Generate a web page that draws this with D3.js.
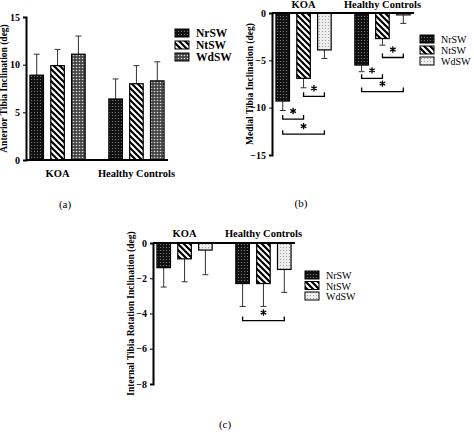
<!DOCTYPE html><html><head><meta charset="utf-8"><script src="https://cdn.jsdelivr.net/npm/d3@7"></script>
<style>body{margin:0;background:#fff}text{font-family:"Liberation Serif","Times New Roman",serif}</style></head><body>
<svg id="c" width="474" height="435"></svg>
<script>
const groups=["KOA","Healthy Controls"];
const series=["NrSW","NtSW","WdSW"];
const antMean=[[8.9,9.9,11.1],[6.4,8.0,8.3]];
const antErr=[[2.2,1.7,1.9],[2.1,1.9,2.0]];
const medMean=[[-9.3,-6.9,-3.9],[-5.5,-2.7,-0.2]];
const medErr=[[1.0,1.0,0.9],[0.7,0.7,0.9]];
const rotMean=[[-1.4,-0.9,-0.4],[-2.3,-2.3,-1.5]];
const rotErr=[[1.1,1.3,1.4],[1.3,1.3,1.3]];
const antTicks=[0,5,10,15], medTicks=[0,-5,-10,-15], rotTicks=[0,-2,-4,-6,-8];
const medSig=[[0,0,1,-11.2],[0,0,2,-12.8],[0,1,2,-8.8],[1,0,1,-6.9],[1,0,2,-8.3],[1,1,2,-4.7]];
const rotSig=[[1,0,2,-4.4]];

const svg=d3.select("#c");
const defs=svg.append("defs");
function pat(id,w,h,bg,draw){const p=defs.append("pattern").attr("id",id).attr("patternUnits","userSpaceOnUse").attr("width",w).attr("height",h);p.append("rect").attr("width",w).attr("height",h).attr("fill",bg);draw(p);}
pat("p0",3,3,"#111",p=>p.append("circle").attr("cx",1.5).attr("cy",1.5).attr("r",0.6).attr("fill","#888"));
pat("p1",6,6,"#fff",p=>{p.append("path").attr("d","M-1,-1L7,7M-4,2L4,10M2,-4L10,4").attr("stroke","#000").attr("stroke-width",2.2);});
pat("p2a",3,3,"#444",p=>p.append("circle").attr("cx",1.5).attr("cy",1.5).attr("r",0.8).attr("fill","#ddd"));
pat("p2b",3,3,"#eee",p=>p.append("circle").attr("cx",1.5).attr("cy",1.5).attr("r",0.6).attr("fill","#999"));
const star=d3.symbol().type(d3.symbolAsterisk).size(28);

function panel(o){
  const g=svg.append("g");
  const y=d3.scaleLinear().domain(o.dom).range([o.y0,o.y1]);
  const x=d3.scaleBand().domain(groups).range(o.xr).paddingInner(0.3).paddingOuter(0.05);
  const xi=d3.scaleBand().domain(series).range([0,x.bandwidth()]).paddingInner(0.35);
  const fills=["url(#p0)","url(#p1)",o.p2];
  groups.forEach((gn,gi)=>series.forEach((s,si)=>{
    const v=o.mean[gi][si],e=o.err[gi][si],bx=x(gn)+xi(s),bw=xi.bandwidth(),cx=bx+bw/2;
    const tip=v>=0?v+e:v-e;
    g.append("line").attr("x1",cx).attr("x2",cx).attr("y1",y(v)).attr("y2",y(tip)).attr("stroke","#333").attr("stroke-width",1);
    g.append("line").attr("x1",cx-3).attr("x2",cx+3).attr("y1",y(tip)).attr("y2",y(tip)).attr("stroke","#333");
    g.append("rect").attr("x",bx).attr("width",bw).attr("y",Math.min(y(0),y(v))).attr("height",Math.abs(y(v)-y(0))).attr("fill",fills[si]).attr("stroke","#000").attr("stroke-width",1.2);
  }));
  const ax=g.append("g").attr("transform",`translate(${o.xr[0]},0)`).call(d3.axisLeft(y).tickValues(o.ticks).tickSize(3).tickFormat(d3.format("d")));
  ax.select(".domain").attr("stroke-width",2);
  ax.selectAll("text").attr("font-size",10).attr("font-weight","bold");
  g.append("line").attr("x1",o.xr[0]).attr("x2",o.xr[1]).attr("y1",y(0)).attr("y2",y(0)).attr("stroke","#000").attr("stroke-width",2);
  groups.forEach(gn=>g.append("text").attr("x",x(gn)+x.bandwidth()/2).attr("y",o.labY).attr("text-anchor","middle").attr("font-size",10.5).attr("font-weight","bold").text(gn));
  g.append("text").attr("transform",`translate(${o.xr[0]-19},${(o.y0+o.y1)/2}) rotate(-90)`).attr("text-anchor","middle").attr("font-size",9.5).attr("font-weight","bold").text(o.title);
  (o.sig||[]).forEach(([gi,a,b,lv])=>{
    const x1=x(groups[gi])+xi(series[a])+xi.bandwidth()/2,x2=x(groups[gi])+xi(series[b])+xi.bandwidth()/2,yy=y(lv);
    g.append("path").attr("d",`M${x1},${yy-4}V${yy}H${x2}V${yy-4}`).attr("fill","none").attr("stroke","#000").attr("stroke-width",1.3);
    g.append("path").attr("d",star).attr("transform",`translate(${(x1+x2)/2},${yy-8})`).attr("stroke","#000").attr("stroke-width",1.3).attr("fill","none");
  });
  series.forEach((s,si)=>{
    const ly=o.leg[1]+si*o.legDy;
    g.append("rect").attr("x",o.leg[0]).attr("y",ly-4).attr("width",14).attr("height",8).attr("fill",fills[si]).attr("stroke","#000");
    g.append("text").attr("x",o.leg[0]+21).attr("y",ly+4).attr("font-size",o.legFs).attr("font-weight",o.legBold?"bold":"normal").text(s);
  });
  g.append("text").attr("x",o.cap[0]).attr("y",o.cap[1]).attr("text-anchor","middle").attr("font-size",11).text(o.capT);
}
panel({dom:[0,15],y0:160,y1:17,xr:[26,168],mean:antMean,err:antErr,ticks:antTicks,p2:"url(#p2a)",labY:177,title:"Anterior Tibia Inclination (deg)",leg:[175,33],legDy:12,legFs:11.5,legBold:true,cap:[65,208],capT:"(a)"});
panel({dom:[-15,0],y0:155,y1:13,xr:[272,414],mean:medMean,err:medErr,ticks:medTicks,p2:"url(#p2b)",labY:8,title:"Medial Tibia Inclination (deg)",sig:medSig,leg:[420,39],legDy:11,legFs:10,legBold:false,cap:[301,207],capT:"(b)"});
panel({dom:[-8,0],y0:384,y1:243,xr:[153,295],mean:rotMean,err:rotErr,ticks:rotTicks,p2:"url(#p2b)",labY:237,title:"Internal Tibia Rotation Inclination (deg)",sig:rotSig,leg:[305,275],legDy:10.5,legFs:10,legBold:false,cap:[225,428],capT:"(c)"});
</script></body></html>
